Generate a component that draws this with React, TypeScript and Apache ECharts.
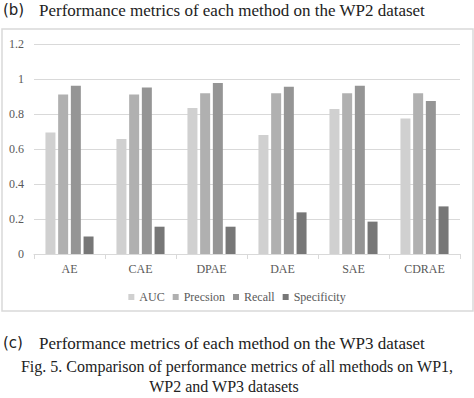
import React, { useEffect, useRef } from "react";
import * as echarts from "echarts";

const categories = ["AE", "CAE", "DPAE", "DAE", "SAE", "CDRAE"];
const seriesNames = ["AUC", "Precsion", "Recall", "Specificity"];
const aucValues = [0.695, 0.657, 0.834, 0.68, 0.829, 0.775];
const precisionValues = [0.912, 0.912, 0.918, 0.918, 0.918, 0.918];
const recallValues = [0.962, 0.952, 0.977, 0.956, 0.962, 0.874];
const specificityValues = [0.1, 0.156, 0.156, 0.238, 0.185, 0.272];
const yTicks = { min: 0, max: 1.2, interval: 0.2 };

const colors = ["#d0d0d0", "#b0b0b0", "#959595", "#777777"];
const serifFamily = "Liberation Serif";
const serif = "'Liberation Serif', serif";

export default function App() {
  const ref = useRef<HTMLDivElement>(null);
  useEffect(() => {
    document.body.style.margin = "0";
    const chart = echarts.init(ref.current!, null, { renderer: "svg" });
    const values = [aucValues, precisionValues, recallValues, specificityValues];
    chart.setOption({
      animation: false,
      backgroundColor: "#ffffff",
      color: colors,
      textStyle: { fontFamily: serifFamily },
      grid: { left: 34, right: 14, top: 44, bottom: 144 },
      legend: {
        data: seriesNames,
        left: "center",
        top: 286,
        itemWidth: 6,
        itemHeight: 6,
        itemGap: 8,
        icon: "rect",
        textStyle: { fontFamily: serifFamily, fontSize: 12, color: "#595959" },
      },
      xAxis: {
        type: "category",
        data: categories,
        axisLine: { lineStyle: { color: "#d9d9d9", width: 1 } },
        axisTick: { show: true, length: 5, lineStyle: { color: "#d9d9d9" } },
        axisLabel: { fontFamily: serifFamily, fontSize: 12, color: "#595959", margin: 9 },
      },
      yAxis: {
        type: "value",
        min: yTicks.min,
        max: yTicks.max,
        interval: yTicks.interval,
        axisLine: { show: false },
        axisTick: { show: false },
        splitLine: { lineStyle: { color: "#d9d9d9", width: 1 } },
        axisLabel: { fontFamily: serifFamily, fontSize: 12, color: "#595959", margin: 10 },
      },
      series: seriesNames.map((name, i) => ({
        name,
        type: "bar",
        data: values[i],
        barWidth: 10,
        barGap: "27%",
        itemStyle: { color: colors[i] },
      })),
      graphic: [
        {
          type: "rect",
          shape: { x: 2, y: 29, width: 471, height: 282 },
          style: { fill: "none", stroke: "#d9d9d9", lineWidth: 1.5 },
          z: -1,
        },
        {
          type: "text",
          x: 3,
          y: 10,
          style: { text: "(b)", font: "15px 'DejaVu Sans', sans-serif", fill: "#222", textVerticalAlign: "middle" },
        },
        {
          type: "text",
          x: 39,
          y: 10,
          style: { text: "Performance metrics of each method on the WP2 dataset", font: `17px ${serif}`, fill: "#222", textVerticalAlign: "middle" },
        },
        {
          type: "text",
          x: 3,
          y: 343,
          style: { text: "(c)", font: "15px 'DejaVu Sans', sans-serif", fill: "#222", textVerticalAlign: "middle" },
        },
        {
          type: "text",
          x: 39,
          y: 343,
          style: { text: "Performance metrics of each method on the WP3 dataset", font: `17px ${serif}`, fill: "#222", textVerticalAlign: "middle" },
        },
        {
          type: "text",
          x: 237,
          y: 366,
          style: { text: "Fig. 5. Comparison of performance metrics of all methods on WP1,", font: `16px ${serif}`, fill: "#222", textAlign: "center", textVerticalAlign: "middle" },
        },
        {
          type: "text",
          x: 224,
          y: 386,
          style: { text: "WP2 and WP3 datasets", font: `16px ${serif}`, fill: "#222", textAlign: "center", textVerticalAlign: "middle" },
        },
      ],
    });
    return () => chart.dispose();
  }, []);
  return <div ref={ref} style={{ width: 474, height: 398 }} />;
}
